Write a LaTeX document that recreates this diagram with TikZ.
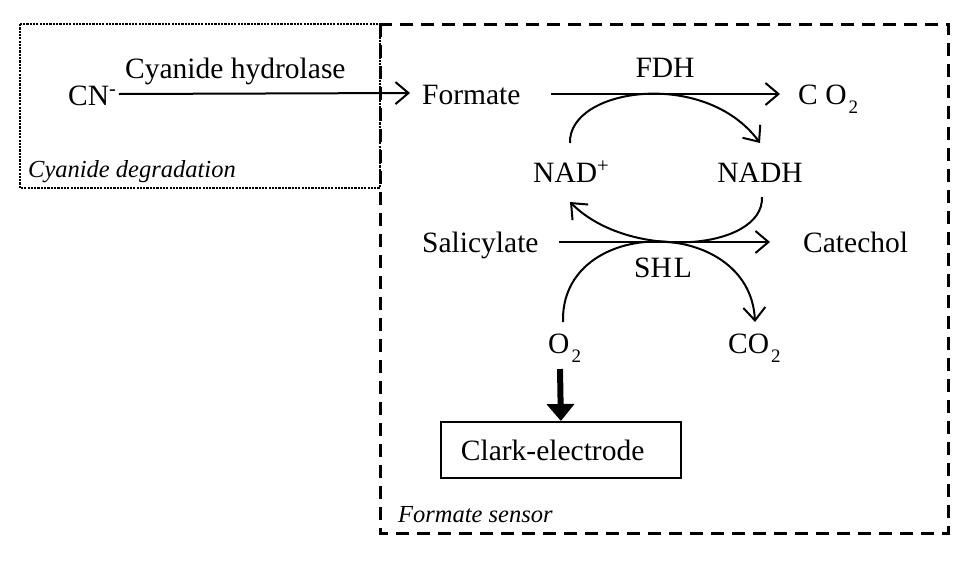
\documentclass[tikz,border=0pt]{standalone}
\usepackage{fontspec}
\setmainfont{Liberation Serif}
\usetikzlibrary{arrows.meta}
\newcommand\subtwo{\kern2pt\raisebox{-9pt}{\fontsize{19pt}{19pt}\selectfont 2}}
\begin{document}
\begin{tikzpicture}[x=1pt,y=-1pt,
  lbl/.style={inner sep=0pt, font=\fontsize{29.5pt}{32pt}\selectfont},
  ital/.style={inner sep=0pt, font=\fontsize{24.5pt}{26pt}\selectfont\itshape},
  arr/.style={line width=2pt, -{Straight Barb[length=13pt,width=22pt]}},
  thick arrow/.style={line width=6pt, -{Triangle[length=17pt,width=27pt]}},
  dotbox/.style={line width=2.8pt, dash pattern=on 2.2pt off 1.1pt},
  dashbox/.style={line width=3pt, dash pattern=on 13pt off 8pt},
  clarkbox/.style={lbl, draw, line width=1.8pt, minimum height=56pt, inner xsep=20pt, inner ysep=0pt, text width=200pt, align=left}]
\useasboundingbox (0,0) rectangle (971,563);
% frames
\draw[dotbox] (20,24) rectangle (380,188);
\draw[dashbox] (380,24) rectangle (948,533);
% texts
\node[lbl, anchor=base west] (cn) at (68,105) {CN\textsuperscript{-}};
\node[lbl, anchor=base west] (hyd) at (125,78) {Cyanide hydrolase};
\node[ital, anchor=base west] (cdeg) at (28,177) {Cyanide degradation};
\node[lbl, anchor=base west] (form) at (422,104) {Formate};
\node[lbl, anchor=base] (fdh) at (665,77) {FDH};
\node[lbl, anchor=base west] (co2a) at (798,104) {C O\subtwo};
\node[lbl, anchor=base west] (nadp) at (533,182) {NAD\textsuperscript{+}};
\node[lbl, anchor=base] (nadh) at (760,182) {NADH};
\node[lbl, anchor=base west] (sal) at (422,252) {Salicylate};
\node[lbl, anchor=base west] (cat) at (803,252) {Catechol};
\node[lbl, anchor=base] (shl) at (663,277) {SH\kern2pt L};
\node[lbl, anchor=base west] (o2) at (548,353) {O\subtwo};
\node[lbl, anchor=base west] (co2b) at (728,353) {CO\subtwo};
\node[clarkbox, anchor=north west] (clark) at (440,421) {Clark-electrode};
\node[ital, anchor=base west] (fsens) at (398,522) {Formate sensor};
% connectors
\draw[arr] ([xshift=2pt,yshift=11pt]cn.base east) -- ([xshift=-12pt,yshift=11pt]form.base west);
\draw[arr] ([xshift=30pt,yshift=10pt]form.base east) -- ([xshift=-18pt,yshift=10pt]co2a.base west);
\draw[arr] ([xshift=20pt,yshift=10pt]sal.base east) -- ([xshift=-33pt,yshift=10pt]cat.base west);
\draw[arr] ([xshift=37pt,yshift=39pt]nadp.base west) .. controls (568,88) and (705,68) .. ([yshift=39pt]nadh.base);
\draw[arr] ([xshift=2pt,yshift=-15pt]nadh.base) .. controls (764,250) and (630,262) .. ([xshift=37pt,yshift=-20pt]nadp.base west);
\draw[arr] ([xshift=15pt,yshift=31pt]o2.base west) .. controls (560,215) and (750,215) .. ([xshift=27pt,yshift=31pt]co2b.base west);
\draw[thick arrow] ([xshift=12pt,yshift=-16pt]o2.base west) -- (clark.north);
\end{tikzpicture}
\end{document}
